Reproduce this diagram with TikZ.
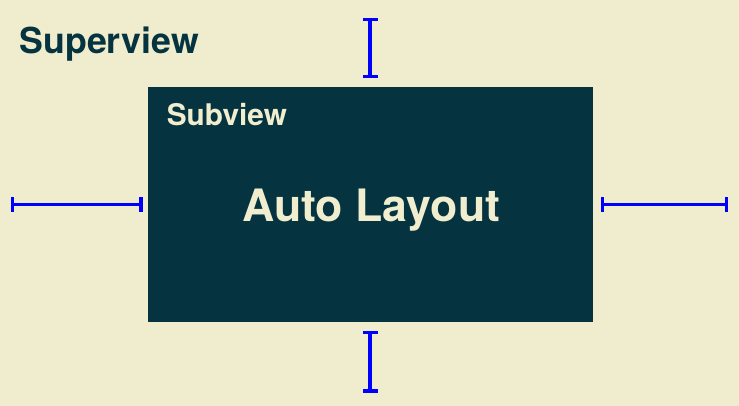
\documentclass[tikz,border=0pt]{standalone}
\usepackage{fontspec}
\setmainfont{TeX Gyre Heros}
\usetikzlibrary{arrows.meta}
\definecolor{bgcream}{HTML}{EFEDCE}
\definecolor{darkteal}{HTML}{053440}
\definecolor{lighttext}{HTML}{F1EED0}
\definecolor{barblue}{HTML}{0000FF}
\tikzset{
  spacer/.style={draw=barblue, line width=3.2pt, {Bar[width=15pt,length=3.2pt]}-{Bar[width=15pt,length=3.2pt]}},
  title/.style={inner sep=0pt, anchor=base west, font=\bfseries},
}
\begin{document}
\begin{tikzpicture}[x=1pt,y=-1pt]
\fill[bgcream] (0,0) rectangle (739,406);
\useasboundingbox (0,0) rectangle (739,406);
\node[fill=darkteal, minimum width=445pt, minimum height=235pt, inner sep=0pt, anchor=north west] (sub) at (148,87) {};
\node[title, text=darkteal, font=\bfseries\fontsize{35.7}{40}\selectfont] (super) at (19.5,53.3) {Superview};
\node[title, text=lighttext, font=\bfseries\fontsize{29.8}{34}\selectfont] (subl) at (166.6,125.7) {Subview};
\node[inner sep=0pt, anchor=base, text=lighttext, font=\bfseries\fontsize{44.6}{50}\selectfont] (auto) at (371.3,221.7) {Auto Layout};
\coordinate (t1) at (370,18);
\coordinate (t2) at (370,78.5);
\coordinate (b1) at (370,331);
\coordinate (b2) at (370,392.5);
\coordinate (l1) at (10.5,204.5);
\coordinate (l2) at (142.5,204.5);
\coordinate (r1) at (600.5,204.5);
\coordinate (r2) at (728,204.5);
\draw[spacer] (t1) -- (t2);
\draw[spacer] (b1) -- (b2);
\draw[spacer] (l1) -- (l2);
\draw[spacer] (r1) -- (r2);
\end{tikzpicture}
\end{document}
